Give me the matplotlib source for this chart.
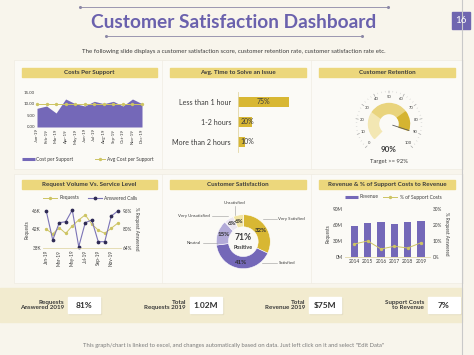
import matplotlib
matplotlib.use("Agg")
import numpy as np
import matplotlib.pyplot as plt
from matplotlib.patches import Rectangle, Wedge

plt.rcParams['font.family'] = ['Lato', 'DejaVu Sans']

# ---- data ----
months = ["Jan-19", "Feb-19", "Mar-19", "Apr-19", "May-19", "Jun-19",
          "Jul-19", "Aug-19", "Sep-19", "Oct-19", "Nov-19", "Dec-19"]
cost_per_support = [8.0, 9.0, 6.0, 12.0, 10.0, 9.0, 11.0, 10.0, 11.0, 9.0, 12.0, 10.0]
avg_cost_per_support = [10.0, 10.0, 10.0, 10.0, 10.0, 10.0, 10.0, 10.0, 10.0, 10.0, 10.0, 10.0]

solve_labels = ["Less than 1 hour", "1-2 hours", "More than 2 hours"]
solve_share = [75, 20, 10]

retention = 90
retention_target = 92
gauge_bands = [0, 30, 70, 90]

requests_k = [42.0, 41.0, 42.3, 41.1, 42.7, 44.0, 45.1, 43.1, 41.8, 41.1, 42.2, 43.3]
answered_pct = [95.7, 70.7, 85.6, 86.5, 96.6, 64.9, 85.6, 88.0, 69.2, 69.2, 91.4, 95.7]

sat_labels = ["Very Satisfied", "Satisfied", "Neutral", "Very Unsatisfied", "Unsatisfied"]
sat_share = [32, 41, 15, 6, 6]
positive = 71

years = ["2014", "2015", "2016", "2017", "2018", "2019"]
revenue_m = [59.3, 63.7, 66.8, 63.0, 65.6, 68.0]
support_cost_pct = [8.3, 10.2, 5.2, 6.9, 5.8, 9.1]

kpi_labels = ["Requests\nAnswered 2019", "Total\nRequests 2019",
              "Total\nRevenue 2019", "Support Costs\nto Revenue"]
kpi_values = ["81%", "1.02M", "$75M", "7%"]

# ---- style ----
W, H = 474, 355
BG = '#f8f5ec'
CARD = '#fbfaf6'
HEAD = '#ecd77c'
PURPLE = '#7468b8'
DARKP = '#2f2b55'
GOLD = '#d8b733'
YEL = '#cdc463'
TXT = '#3c3c3c'

fig = plt.figure(figsize=(W / 100, H / 100), dpi=100, facecolor=BG)


def px_axes(x0, y0, x1, y1):
    ax = fig.add_axes([x0 / W, 1 - y1 / H, (x1 - x0) / W, (y1 - y0) / H])
    ax.set_facecolor('none')
    return ax


bg = fig.add_axes([0, 0, 1, 1], zorder=-5)
bg.set_xlim(0, W)
bg.set_ylim(H, 0)
bg.axis('off')

# slide decorations
bg.plot([462, 462], [0, H], color='#c9c9c9', lw=0.8)
bg.add_patch(Rectangle((452, 12), 18, 17, color='#6f66b0'))
bg.text(461, 20.8, "16", ha='center', va='center', color='white', size=7)
bg.plot([80, 388], [7, 7], color='#8c88a6', lw=0.6, marker='o', ms=1.2)
bg.plot([106, 362], [35.5, 35.5], color='#8c88a6', lw=0.6, marker='o', ms=1.2)
bg.text(234, 27.5, "Customer Satisfaction Dashboard", ha='center', va='baseline',
        size=13.8, weight='bold', color='#6a61ad')
bg.text(234, 51, "The following slide displays a customer satisfaction score, customer retention rate, "
        "customer satisfaction rate etc.", ha='center', va='center', size=4.4, color=TXT)

# cards and headers
headers = [["Costs Per Support", "Avg. Time to Solve an Issue", "Customer Retention"],
           ["Request Volume Vs. Service Level", "Customer Satisfaction",
            "Revenue & % of Support Costs to Revenue"]]
col_x = [(22, 157), (170, 306), (319, 455)]
row_y = [(60, 169, 67.5), (174, 283, 180)]
for r, (cy0, cy1, hy) in enumerate(row_y):
    for c, (hx0, hx1) in enumerate(col_x):
        bg.add_patch(Rectangle((hx0 - 8, cy0), hx1 - hx0 + 16, cy1 - cy0,
                               facecolor=CARD, edgecolor='#f0ece2', lw=0.5))
        bg.add_patch(Rectangle((hx0, hy), hx1 - hx0, 9, color=HEAD))
        bg.text((hx0 + hx1) / 2, hy + 4.6, headers[r][c], ha='center', va='center',
                size=4.5, weight='bold', color=TXT)

# ---- Costs per support ----
ax1 = px_axes(37, 92, 142, 127)
x = np.arange(len(months))
ax1.fill_between(x, cost_per_support, color=PURPLE, lw=0)
ax1.plot(x, avg_cost_per_support, color=YEL, lw=0.7, marker='o', ms=1.4, clip_on=False)
ax1.set_xlim(0, 11)
ax1.set_ylim(0, 15)
ax1.set_yticks([0, 5, 10, 15])
ax1.set_yticklabels([f"{v:.2f}" for v in [0, 5, 10, 15]])
ax1.set_xticks(x)
ax1.set_xticklabels(months, rotation=90)
ax1.tick_params(length=0, labelsize=3.2, pad=1.5, colors=TXT)
for s in ax1.spines.values():
    s.set_visible(False)
bg.plot([22, 35], [159, 159], color=PURPLE, lw=2.2, solid_capstyle='butt')
bg.text(36.5, 159, "Cost per Support", va='center', size=3.5, color=TXT)
bg.plot([95, 105], [159, 159], color=YEL, lw=0.7)
bg.plot([100], [159], color=YEL, marker='o', ms=1.4)
bg.text(107, 159, "Avg Cost per Support", va='center', size=3.5, color=TXT)

# ---- Avg time to solve ----
ax2 = px_axes(238, 92, 306, 152)
ax2.barh(range(len(solve_share)), solve_share, height=0.5, color=GOLD)
ax2.set_ylim(2.5, -0.5)
ax2.set_xlim(0, 100)
ax2.set_yticks(range(len(solve_labels)))
ax2.set_yticklabels(solve_labels)
ax2.set_xticks([])
ax2.tick_params(length=0, labelsize=5.1, pad=5, colors=TXT)
for s in ['top', 'right', 'bottom']:
    ax2.spines[s].set_visible(False)
ax2.spines['left'].set_color('#e2d7a6')
ax2.spines['left'].set_linewidth(0.6)
for i, v in enumerate(solve_share):
    ax2.text(max(v / 2, 14), i, f"{v}%", ha='center', va='center', size=5, color=TXT)

# ---- Customer retention gauge ----
axg = px_axes(349, 84, 429, 164)
axg.set_xlim(-40, 40)
axg.set_ylim(-40, 40)
axg.set_aspect('equal')
axg.axis('off')


def ang(v):
    return 225 - 2.7 * v


band_colors = ['#f3e7b3', '#e9d47d', '#d5b431']
for (a, b), col in zip(zip(gauge_bands[:-1], gauge_bands[1:]), band_colors):
    axg.add_patch(Wedge((0, 0), 20.5, ang(b), ang(a), width=10, color=col))
for v in range(0, 101, 10):
    t = np.radians(ang(v))
    axg.text(27.5 * np.cos(t), 27.5 * np.sin(t), str(v), ha='center', va='center',
             size=3, color=TXT)
    axg.plot([31 * np.cos(t), 33.5 * np.cos(t)], [31 * np.sin(t), 33.5 * np.sin(t)],
             color='#8a8a8a', lw=0.35)
for v in np.arange(0, 100.1, 2.5):
    t = np.radians(ang(v))
    axg.plot([32 * np.cos(t), 33 * np.cos(t)], [32 * np.sin(t), 33 * np.sin(t)],
             color='#c4c4c4', lw=0.3)
t = np.radians(ang(retention))
axg.plot([4 * np.cos(t), 21 * np.cos(t)], [4 * np.sin(t), 21 * np.sin(t)],
         color='#5c5c5c', lw=0.6)
bg.text(389, 149.5, f"{retention}%", ha='center', va='center', size=5.8, weight='bold', color=TXT)
bg.text(389, 161, f"Target >= {retention_target}%", ha='center', va='center', size=4.2, color=TXT)

# ---- Request volume vs service level ----
ax4 = px_axes(43, 210.7, 121, 247.7)
ax4.plot(x, requests_k, color=YEL, lw=0.7, marker='o', ms=1.4, clip_on=False)
ax4.set_xlim(-0.5, 11.5)
ax4.set_ylim(38, 46)
ax4.set_yticks([38, 42, 46])
ax4.set_yticklabels(["38K", "42K", "46K"])
ax4.set_xticks(x[::2])
ax4.set_xticklabels(months[::2], rotation=90)
ax4.set_ylabel("Requests", size=3.3, color=TXT, labelpad=2)
ax4b = ax4.twinx()
ax4b.plot(x, answered_pct, color='#7b73b6', lw=0.8, marker='o', ms=1.7,
          mfc=DARKP, mec=DARKP, clip_on=False)
ax4b.set_ylim(64, 96)
ax4b.set_yticks([64, 80, 96])
ax4b.set_yticklabels(["64%", "80%", "96%"])
ax4b.set_ylabel("% Request Answered", size=3.3, color=TXT, rotation=270, labelpad=5)
for a in (ax4, ax4b):
    a.tick_params(length=0, labelsize=3.4, pad=1.5, colors=TXT)
    for s in ['top', 'right', 'left']:
        a.spines[s].set_visible(False)
    a.spines['bottom'].set_color('#e4dbb0')
    a.spines['bottom'].set_linewidth(0.5)
bg.plot([43, 57], [198, 198], color=YEL, lw=0.7)
bg.plot([50], [198], color=YEL, marker='o', ms=1.4)
bg.text(59.5, 198, "Requests", va='center', size=3.5, color=TXT)
bg.plot([88, 102], [198, 198], color='#7b73b6', lw=0.8)
bg.plot([95], [198], color=DARKP, marker='o', ms=1.7)
bg.text(104.5, 198, "Answered Calls", va='center', size=3.5, color=TXT)

# ---- Customer satisfaction donut ----
ax5 = px_axes(216.3, 214.7, 270.3, 268.7)
sat_colors = [GOLD, PURPLE, '#b2aad8', '#ebe6f1', '#f1e4a4']
ax5.pie(sat_share, colors=sat_colors, startangle=90, counterclock=False, radius=1,
        wedgeprops=dict(width=0.45, edgecolor='white', linewidth=0.4))
ax5.set_xlim(-1, 1)
ax5.set_ylim(-1, 1)
ax5.set_aspect('equal')
cum = np.cumsum([0] + sat_share[:-1])
for share, c0 in zip(sat_share, cum):
    t = np.radians(90 - 360 * (c0 + share / 2) / 100)
    ax5.text(0.78 * np.cos(t), 0.78 * np.sin(t), f"{share}%", ha='center', va='center',
             size=4.4, weight='bold', color='#2e2e2e')
ax5.text(0, 0.17, f"{positive}%", ha='center', va='center', size=6.2, weight='bold', color=TXT)
ax5.text(0, -0.2, "Positive", ha='center', va='center', size=3.9, weight='bold', color=TXT)
# label text position, leader line start, leader line end (axes data units)
leaders = {
    "Very Satisfied": ((1.30, 0.84), (0.74, 0.84), (1.25, 0.84), 'left'),
    "Satisfied": ((1.30, -0.78), (0.68, -0.78), (1.25, -0.78), 'left'),
    "Neutral": ((-1.58, -0.04), (-1.50, -0.04), (-0.98, -0.04), 'right'),
    "Very Unsatisfied": ((-1.22, 0.95), (-1.17, 0.95), (-0.56, 0.95), 'right'),
    "Unsatisfied": ((-0.31, 1.42), (-0.31, 1.34), (-0.31, 0.99), 'center'),
}
for name in sat_labels:
    (tx, ty), (l0x, l0y), (l1x, l1y), ha = leaders[name]
    ax5.plot([l0x, l1x], [l0y, l1y], color='#9a9a9a', lw=0.4, clip_on=False)
    ax5.text(tx, ty, name, ha=ha, va='center', size=3.2, color=TXT)

# ---- Revenue & support costs ----
ax6 = px_axes(345, 209.3, 430.3, 257.3)
xy = np.arange(len(years))
ax6.bar(xy, revenue_m, width=0.55, color=PURPLE)
ax6.set_xlim(-0.7, 5.7)
ax6.set_ylim(0, 90)
ax6.set_yticks([0, 30, 60, 90])
ax6.set_yticklabels(["0M", "30M", "60M", "90M"])
ax6.set_xticks(xy)
ax6.set_xticklabels(years)
ax6.set_ylabel("Requests", size=3.3, color=TXT, labelpad=2)
ax6b = ax6.twinx()
ax6b.plot(xy, support_cost_pct, color=YEL, lw=0.7, marker='o', ms=1.4)
ax6b.set_ylim(0, 30)
ax6b.set_yticks([0, 10, 20, 30])
ax6b.set_yticklabels(["0%", "10%", "20%", "30%"])
ax6b.set_ylabel("% Request Answered", size=3.3, color=TXT, rotation=270, labelpad=5)
for a in (ax6, ax6b):
    a.tick_params(length=0, labelsize=3.4, pad=1.5, colors=TXT)
    for s in ['top', 'right', 'left']:
        a.spines[s].set_visible(False)
    a.spines['bottom'].set_color('#e4dbb0')
    a.spines['bottom'].set_linewidth(0.5)
bg.plot([345, 358], [197, 197], color=PURPLE, lw=2.2, solid_capstyle='butt')
bg.text(360, 197, "Revenue", va='center', size=3.5, color=TXT)
bg.plot([383, 397], [197, 197], color=YEL, lw=0.7)
bg.plot([390], [197], color=YEL, marker='o', ms=1.4)
bg.text(400, 197, "% of Support Costs", va='center', size=3.5, color=TXT)

# ---- KPI strip ----
bg.add_patch(Rectangle((0, 288), 462, 34, color='#f2ebcf'))
kpi_box_x = [68, 190, 309, 428]
for lab, val, bx in zip(kpi_labels, kpi_values, kpi_box_x):
    bg.add_patch(Rectangle((bx + 0.6, 297.6), 32, 16, color='#e6dfc4'))
    bg.add_patch(Rectangle((bx, 297), 32, 16, color='white'))
    bg.text(bx + 16, 305.2, val, ha='center', va='center', size=6, weight='bold', color='#2e2e2e')
    bg.text(bx - 4, 305, lab, ha='right', va='center', size=4.5, weight='bold',
            color='#3a3a3a', linespacing=1.15)

bg.text(234, 346, "This graph/chart is linked to excel, and changes automatically based on data. "
        "Just left click on it and select \"Edit Data\"", ha='center', va='center',
        size=4.2, color='#7a7a7a')

fig.savefig("out.png", dpi=100, facecolor=BG)
